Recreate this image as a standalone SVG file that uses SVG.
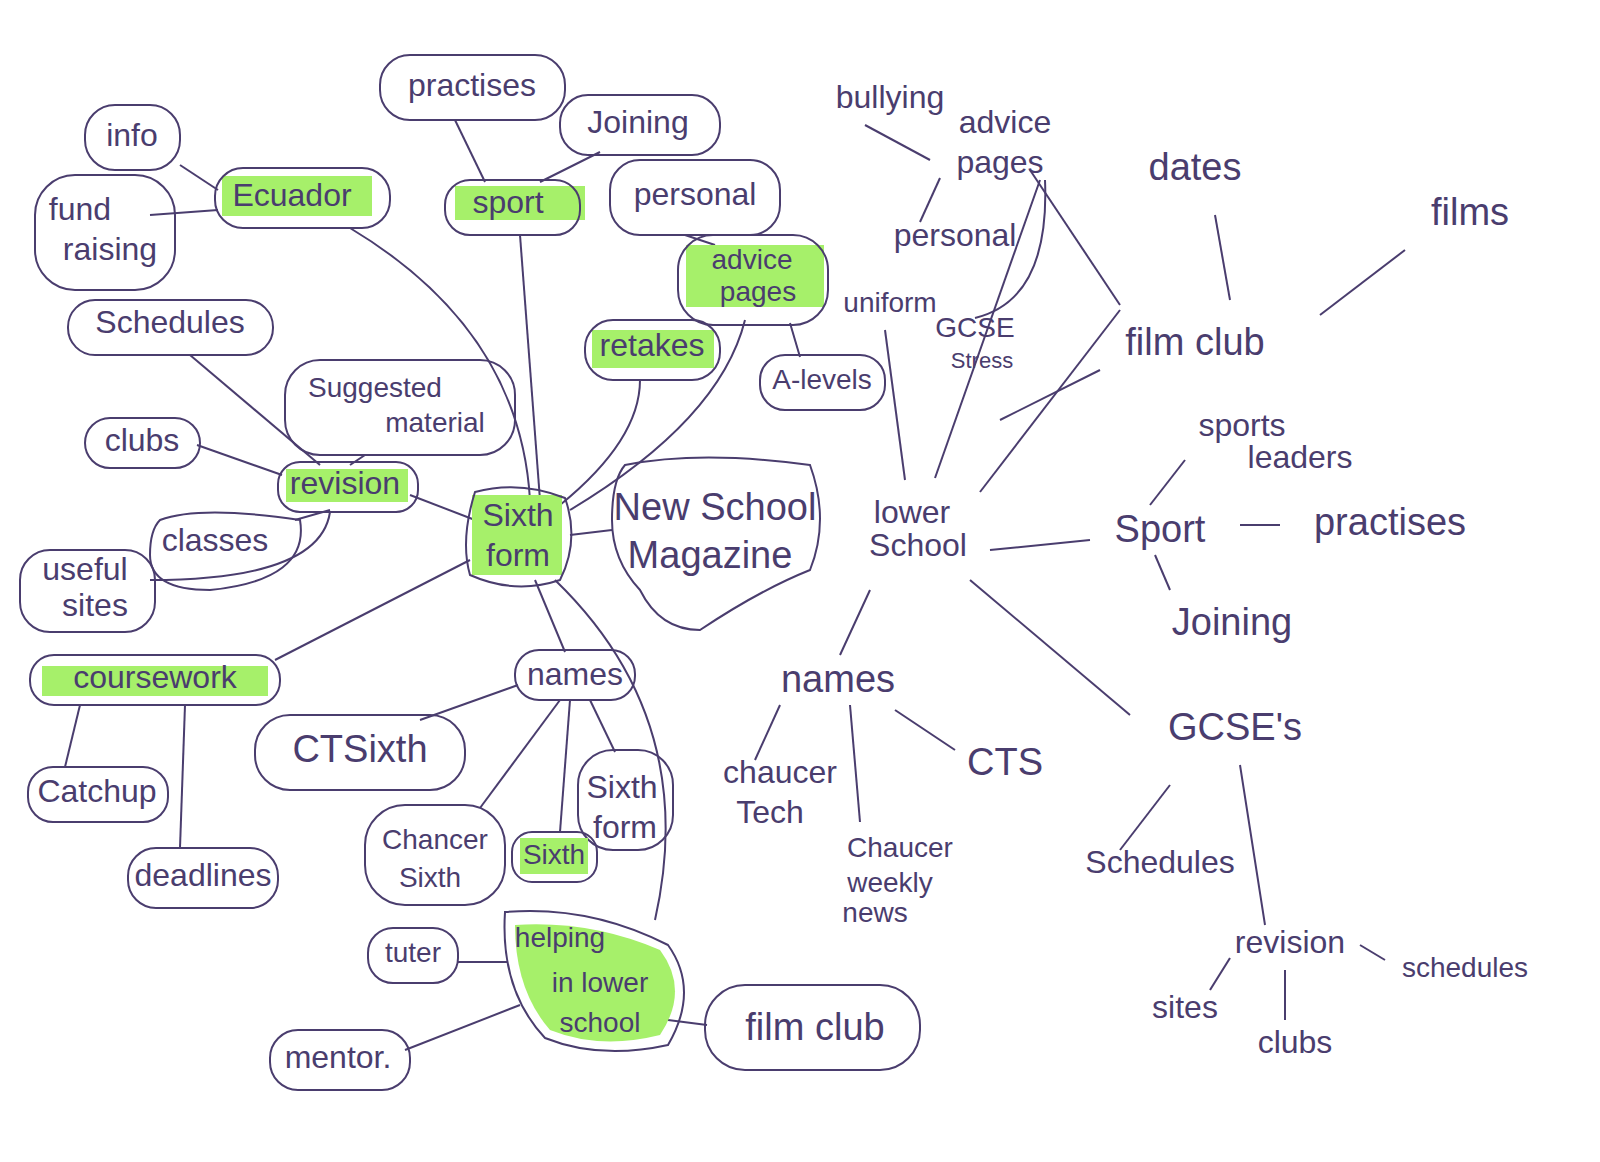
<svg xmlns="http://www.w3.org/2000/svg" width="1600" height="1162" viewBox="0 0 1600 1162">
<style>
text{font-family:"Liberation Sans",sans-serif;fill:#4a3d6e;text-anchor:middle;dominant-baseline:middle}
.b{fill:none;stroke:#4a3d6e;stroke-width:2}
.hl{fill:#a6f06a}
.c line,.c path{stroke:#4a3d6e;stroke-width:2;fill:none}
.s{font-size:28px}.m{font-size:32px}.l{font-size:38px}
</style>
<rect width="1600" height="1162" fill="#fff"/>
<g class="c">
<path d="M350 228 Q520 330 530 500"/><line x1="540" y1="500" x2="520" y2="235"/>
<path d="M560 505 Q640 440 640 380"/><path d="M570 510 Q720 420 745 320"/>
<line x1="475" y1="520" x2="410" y2="495"/><line x1="470" y1="560" x2="275" y2="660"/>
<line x1="535" y1="580" x2="565" y2="652"/><path d="M555 580 Q700 720 655 920"/>
<line x1="570" y1="535" x2="612" y2="530"/>
<line x1="180" y1="165" x2="218" y2="190"/><line x1="150" y1="215" x2="218" y2="210"/>
<line x1="455" y1="120" x2="485" y2="182"/><line x1="600" y1="152" x2="540" y2="182"/>
<line x1="685" y1="235" x2="715" y2="245"/><line x1="790" y1="323" x2="800" y2="357"/>
<line x1="190" y1="355" x2="320" y2="465"/><line x1="197" y1="445" x2="282" y2="475"/>
<line x1="365" y1="455" x2="350" y2="465"/><line x1="295" y1="520" x2="330" y2="510"/>
<path d="M150 580 Q320 580 330 512"/>
<line x1="80" y1="705" x2="65" y2="767"/><line x1="185" y1="705" x2="180" y2="848"/>
<line x1="518" y1="685" x2="420" y2="720"/><line x1="560" y1="700" x2="480" y2="808"/>
<line x1="570" y1="700" x2="560" y2="832"/><line x1="590" y1="700" x2="615" y2="752"/>
<line x1="458" y1="962" x2="508" y2="962"/><line x1="405" y1="1050" x2="520" y2="1005"/>
<line x1="668" y1="1020" x2="707" y2="1025"/>
<line x1="905" y1="480" x2="885" y2="330"/><line x1="935" y1="478" x2="1040" y2="180"/>
<line x1="980" y1="492" x2="1120" y2="310"/><line x1="1000" y1="420" x2="1100" y2="370"/>
<line x1="990" y1="550" x2="1090" y2="540"/><line x1="870" y1="590" x2="840" y2="655"/>
<line x1="970" y1="580" x2="1130" y2="715"/>
<line x1="865" y1="125" x2="930" y2="160"/><line x1="940" y1="178" x2="920" y2="222"/>
<path d="M1045 180 Q1050 300 975 318"/><line x1="1030" y1="170" x2="1120" y2="305"/>
<line x1="1215" y1="215" x2="1230" y2="300"/><line x1="1320" y1="315" x2="1405" y2="250"/>
<line x1="1150" y1="505" x2="1185" y2="460"/><line x1="1240" y1="525" x2="1280" y2="525"/>
<line x1="1155" y1="555" x2="1170" y2="590"/>
<line x1="780" y1="705" x2="755" y2="760"/><line x1="850" y1="705" x2="860" y2="822"/>
<line x1="895" y1="710" x2="955" y2="750"/>
<line x1="1170" y1="785" x2="1120" y2="850"/><line x1="1240" y1="765" x2="1265" y2="925"/>
<line x1="1360" y1="945" x2="1385" y2="960"/><line x1="1230" y1="958" x2="1210" y2="990"/>
<line x1="1285" y1="970" x2="1285" y2="1020"/>
</g>
<g id="magazine"><path class="b" d="M625 465 Q700 450 810 465 Q830 520 810 570 Q760 590 700 630 Q660 630 640 590 Q612 560 612 520 Q612 480 625 465Z"/><text x="715" y="510" class="l">New School</text><text x="710" y="558" class="l">Magazine</text></g>
<g id="sixthform"><rect class="hl" x="472" y="495" width="90" height="80"/><text x="518" y="518" class="m">Sixth</text><text x="518" y="558" class="m">form</text><path class="b" d="M475 492 Q520 480 565 498 Q580 540 560 580 Q515 595 470 575 Q460 540 475 492Z"/></g>
<g id="practises"><rect class="b" x="380" y="55" width="185" height="65" rx="30"/><text x="472" y="88" class="m">practises</text></g>
<g id="joining"><rect class="b" x="560" y="95" width="160" height="60" rx="28"/><text x="638" y="125" class="m">Joining</text></g>
<g id="info"><rect class="b" x="85" y="105" width="95" height="65" rx="30"/><text x="132" y="138" class="m">info</text></g>
<g id="ecuador"><rect class="hl" x="222" y="176" width="150" height="40"/><rect class="b" x="215" y="168" width="175" height="60" rx="28"/><text x="292" y="198" class="m">Ecuador</text></g>
<g id="fundraising"><rect class="b" x="35" y="175" width="140" height="115" rx="40"/><text x="80" y="212" class="m">fund</text><text x="110" y="252" class="m">raising</text></g>
<g id="sport1"><rect class="hl" x="455" y="186" width="130" height="34"/><rect class="b" x="445" y="180" width="135" height="55" rx="25"/><text x="508" y="205" class="m">sport</text></g>
<g id="personal1"><rect class="b" x="610" y="160" width="170" height="75" rx="30"/><text x="695" y="197" class="m">personal</text></g>
<g id="advice1"><rect class="hl" x="686" y="245" width="138" height="62"/><rect class="b" x="678" y="235" width="150" height="90" rx="35"/><text x="752" y="262" class="s">advice</text><text x="758" y="294" class="s">pages</text></g>
<g id="schedules1"><rect class="b" x="68" y="300" width="205" height="55" rx="27"/><text x="170" y="325" class="m">Schedules</text></g>
<g id="retakes"><rect class="hl" x="592" y="330" width="122" height="38"/><rect class="b" x="585" y="320" width="135" height="60" rx="28"/><text x="652" y="348" class="m">retakes</text></g>
<g id="alevels"><rect class="b" x="760" y="355" width="125" height="55" rx="25"/><text x="822" y="382" class="s">A-levels</text></g>
<g id="suggested"><rect class="b" x="285" y="360" width="230" height="95" rx="35"/><text x="375" y="390" class="s">Suggested</text><text x="435" y="425" class="s">material</text></g>
<g id="clubs1"><rect class="b" x="85" y="418" width="115" height="50" rx="25"/><text x="142" y="443" class="m">clubs</text></g>
<g id="revision1"><rect class="hl" x="286" y="469" width="122" height="33"/><rect class="b" x="278" y="462" width="140" height="50" rx="22"/><text x="345" y="486" class="m">revision</text></g>
<g id="classes"><path class="b" d="M160 520 Q200 505 300 520 Q310 580 210 590 Q150 590 150 555 Q150 530 160 520Z"/><text x="215" y="543" class="m">classes</text></g>
<g id="usefulsites"><rect class="b" x="20" y="550" width="135" height="82" rx="30"/><text x="85" y="572" class="m">useful</text><text x="95" y="608" class="m">sites</text></g>
<g id="coursework"><rect class="hl" x="42" y="666" width="226" height="30"/><rect class="b" x="30" y="655" width="250" height="50" rx="24"/><text x="155" y="680" class="m">coursework</text></g>
<g id="names1"><rect class="b" x="515" y="650" width="120" height="50" rx="24"/><text x="575" y="677" class="m">names</text></g>
<g id="ctsixth"><rect class="b" x="255" y="715" width="210" height="75" rx="35"/><text x="360" y="752" class="l">CTSixth</text></g>
<g id="sixthform2"><rect class="b" x="578" y="750" width="95" height="100" rx="35"/><text x="622" y="790" class="m">Sixth</text><text x="625" y="830" class="m">form</text></g>
<g id="chancersixth"><rect class="b" x="365" y="805" width="140" height="100" rx="40"/><text x="435" y="842" class="s">Chancer</text><text x="430" y="880" class="s">Sixth</text></g>
<g id="sixth"><rect class="hl" x="520" y="838" width="68" height="36"/><rect class="b" x="512" y="832" width="85" height="50" rx="20"/><text x="554" y="857" class="s">Sixth</text></g>
<g id="catchup"><rect class="b" x="28" y="767" width="140" height="55" rx="25"/><text x="97" y="794" class="m">Catchup</text></g>
<g id="deadlines"><rect class="b" x="128" y="848" width="150" height="60" rx="28"/><text x="203" y="878" class="m">deadlines</text></g>
<g id="helping"><path class="hl" d="M515 925 Q590 920 660 950 Q690 990 660 1035 Q600 1050 550 1030 Q515 990 515 925Z"/><path class="b" d="M505 912 Q590 905 668 945 Q700 990 668 1045 Q600 1060 545 1038 Q500 990 505 912Z"/><text x="560" y="940" class="s">helping</text><text x="600" y="985" class="s">in lower</text><text x="600" y="1025" class="s">school</text></g>
<g id="tuter"><rect class="b" x="368" y="928" width="90" height="55" rx="25"/><text x="413" y="955" class="s">tuter</text></g>
<g id="mentor"><rect class="b" x="270" y="1030" width="140" height="60" rx="28"/><text x="338" y="1060" class="m">mentor.</text></g>
<g id="filmclub1"><rect class="b" x="705" y="985" width="215" height="85" rx="40"/><text x="815" y="1030" class="l">film club</text></g>
<g id="lowerschool"><text x="912" y="515" class="m">lower</text><text x="918" y="548" class="m">School</text></g>
<g id="bullying"><text x="890" y="100" class="m">bullying</text></g>
<g id="advice2"><text x="1005" y="125" class="m">advice</text><text x="1000" y="165" class="m">pages</text></g>
<g id="personal2"><text x="955" y="238" class="m">personal</text></g>
<g id="uniform"><text x="890" y="305" class="s">uniform</text></g>
<g id="gcsestress"><text x="975" y="330" class="s">GCSE</text><text x="982" y="362" font-size="22">Stress</text></g>
<g id="filmclub2"><text x="1195" y="345" class="l">film club</text></g>
<g id="dates"><text x="1195" y="170" class="l">dates</text></g>
<g id="films"><text x="1470" y="215" class="l">films</text></g>
<g id="sportsleaders"><text x="1242" y="428" class="m">sports</text><text x="1300" y="460" class="m">leaders</text></g>
<g id="sport2"><text x="1160" y="532" class="l">Sport</text></g>
<g id="practises2"><text x="1390" y="525" class="l">practises</text></g>
<g id="joining2"><text x="1232" y="625" class="l">Joining</text></g>
<g id="names2"><text x="838" y="682" class="l">names</text></g>
<g id="chaucertech"><text x="780" y="775" class="m">chaucer</text><text x="770" y="815" class="m">Tech</text></g>
<g id="chaucerweekly"><text x="900" y="850" class="s">Chaucer</text><text x="890" y="885" class="s">weekly</text><text x="875" y="915" class="s">news</text></g>
<g id="cts"><text x="1005" y="765" class="l">CTS</text></g>
<g id="gcses"><text x="1235" y="730" class="l">GCSE's</text></g>
<g id="schedules2"><text x="1160" y="865" class="m">Schedules</text></g>
<g id="revision2"><text x="1290" y="945" class="m">revision</text></g>
<g id="schedules3"><text x="1465" y="970" class="s">schedules</text></g>
<g id="sites"><text x="1185" y="1010" class="m">sites</text></g>
<g id="clubs2"><text x="1295" y="1045" class="m">clubs</text></g>
</svg>
